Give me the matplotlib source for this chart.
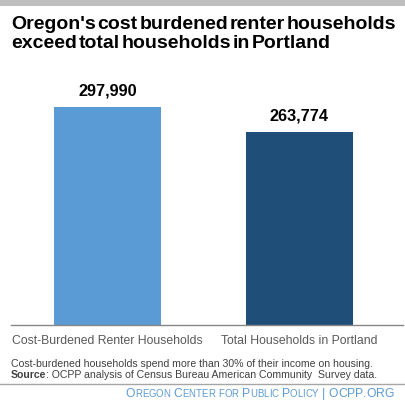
import matplotlib
matplotlib.use('Agg')
import matplotlib.pyplot as plt
from matplotlib.patches import Rectangle
from matplotlib.lines import Line2D
from matplotlib.transforms import ScaledTranslation

categories = ['Cost-Burdened Renter Households', 'Total Households in Portland']
values = [297990, 263774]
colors = ['#5b9bd5', '#1f4e79']
title_lines = ["Oregon's cost burdened renter households",
               "exceed total households in Portland"]
note = 'Cost-burdened households spend more than 30% of their income on housing.'
source = ': OCPP analysis of Census Bureau American Community  Survey data.'
footer = 'Oregon Center for Public Policy | OCPP.ORG'

W, H = 405, 404
plt.rcParams['font.family'] = ['Liberation Sans', 'DejaVu Sans']

fig = plt.figure(figsize=(W / 100, H / 100), dpi=100)
r = fig.canvas.get_renderer()


def fx(px):
    return px / W


def fy(py):
    return 1 - py / H


# gray band on top
fig.patches.append(Rectangle((0, fy(6)), 1, 6 / H, transform=fig.transFigure,
                             facecolor='#bfbfbf', edgecolor='none'))

# title, word by word with tight spacing
for line, base in zip(title_lines, [29, 48]):
    x = 11
    for word in line.split(' '):
        t = fig.text(fx(x), fy(base), word, fontsize=14, fontweight='bold',
                     va='baseline', ha='left', color='black')
        x += t.get_window_extent(r).width + 1.8

# axes: baseline at y=325, bar1 top at y=107
ymax = 360000
ax_h = 218 * ymax / values[0]
ax = fig.add_axes([fx(11), fy(325), fx(403) - fx(11), ax_h / H])
ax.bar(range(len(values)), values, width=107 / 192, color=colors)
ax.set_xlim(-96.5 / 192, (392 - 96.5) / 192)
ax.set_ylim(0, ymax)
off = ax.transData + ScaledTranslation(0, 9 / 100, fig.dpi_scale_trans)
for i, v in enumerate(values):
    ax.text(i, v, f'{v:,}', ha='center', va='bottom', fontsize=11.7,
            fontweight='bold', color='black', transform=off)
ax.set_xticks(range(len(categories)))
ax.set_xticklabels(categories, fontsize=8.8, color='#595959')
ax.tick_params(axis='x', length=0, pad=7)
ax.set_yticks([])
for s in ['top', 'left', 'right']:
    ax.spines[s].set_visible(False)
ax.spines['bottom'].set_color('#868686')
ax.spines['bottom'].set_linewidth(1)
ax.patch.set_alpha(0)

# notes
fig.text(fx(11), fy(366.7), note, fontsize=7.55, color='#404040', va='baseline')
t1 = fig.text(fx(11), fy(377.7), 'Source', fontsize=7.55, color='#404040',
              fontweight='bold', va='baseline')
bb = t1.get_window_extent(r)
fig.text(bb.x1 / W, fy(377.7), source, fontsize=7.55, color='#404040',
         va='baseline')

# divider
fig.lines.append(Line2D([0, 1], [fy(384), fy(384)], transform=fig.transFigure,
                        color='#a6a6a6', linewidth=1))

# footer in small caps, placed right to left
blue = '#5b9bd5'
big, small = 8.7, 6.9
runs = []
for wi, word in enumerate(footer.split(' ')):
    if wi > 0:
        runs.append((' ', big))
    for ch in word:
        runs.append((ch.upper(), small if ch.islower() else big))
x = 394
for txt, size in reversed(runs):
    if txt == ' ':
        x -= size * 100 / 72 * 0.278
        continue
    t = fig.text(x / W, fy(397), txt, fontsize=size, color=blue,
                 ha='right', va='baseline')
    x -= t.get_window_extent(r).width

fig.savefig('out.png', dpi=100)
